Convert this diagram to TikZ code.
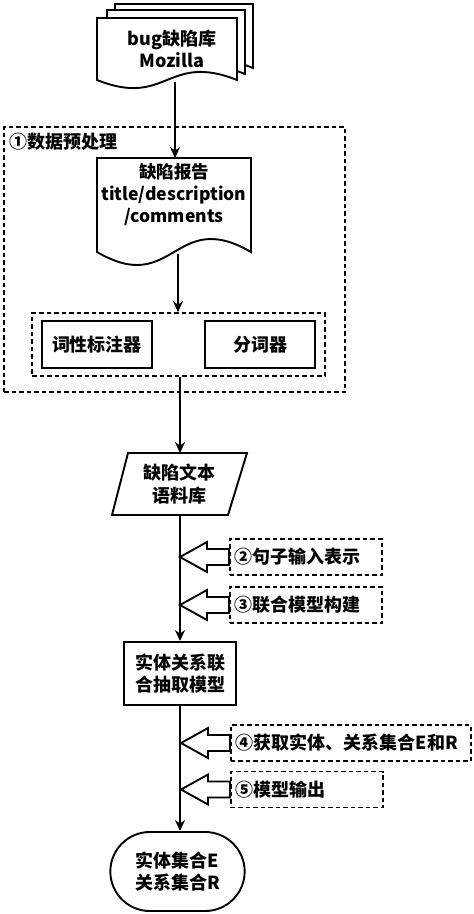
\documentclass[tikz,border=0pt]{standalone}
\usepackage{fontspec}
\setmainfont{Noto Sans CJK SC}
\usetikzlibrary{arrows.meta,shapes.misc}
\tikzset{
  >={Stealth[length=11pt,width=10pt]},
  flow/.style={line width=1.9pt},
  txt/.style={font=\bfseries\fontsize{18}{22.5}\selectfont,align=center},
  box/.style={draw,flow,txt,minimum width=110pt,minimum height=47pt},
  dbox/.style={draw,line width=1.7pt,dash pattern=on 4.5pt off 3pt},
  stepbox/.style={dbox,anchor=west,inner xsep=5pt,minimum height=36pt,
    text width=#1,align=left,font=\bfseries\fontsize{18}{22}\selectfont}
}
% 文档形状: x1, x2, 顶, 底, 波幅
\newcommand\docpath[5]{%
  \filldraw[fill=white,flow] (#1,#4) -- (#1,#3) -- (#2,#3) -- (#2,#4)
  .. controls ({(#1+#2)/2},{#4-#5}) and ({(#1+#2)/2},{#4+#5}) .. (#1,#4) -- cycle;}
% 空心箭头
\newcommand\hollowarr[1]{%
  \draw[flow,fill=white] (#1) -- ++(0,-8) -- ++(-22,0) -- ++(0,-7) -- ++(-27,15)
  -- ++(27,15) -- ++(0,-7) -- ++(22,0) -- cycle;}
\begin{document}
\begin{tikzpicture}[x=1pt,y=-1pt]
  \useasboundingbox (0,0) rectangle (474,914);
  % 数据预处理
  \node[dbox,minimum width=341pt,minimum height=265pt] (pre) at (174.5,259.5) {};
  \node[txt,anchor=west,inner sep=1pt] (preLbl) at (8,142) {①数据预处理};
  \docpath{115}{253}{4}{68}{28}
  \docpath{107}{245}{10}{74}{28}
  \docpath{97}{237}{18}{80}{28}
  \node[txt] (db) at (172,49) {bug缺陷库\\Mozilla};
  \coordinate (dbBot) at (175,82);
  \docpath{97}{251}{158}{252}{45}
  \node[txt,font=\bfseries\fontsize{17.5}{22}\selectfont] (rep) at (174,195) {缺陷报告\\title/description\\/comments};
  \coordinate (repTop) at (175,158);
  \coordinate (repBot) at (178,254);
  \node[dbox,minimum width=293pt,minimum height=63pt] (tools) at (178.5,344.5) {};
  \node[box] (pos) at (97,344.5) {词性标注器};
  \node[box] (seg) at (260,344.5) {分词器};
  % 语料库
  \draw[flow] (128,453) -- (247,453) -- (228,515) -- (112,515) -- cycle;
  \node[txt] (corpus) at (179,484) {缺陷文本\\语料库};
  \coordinate (corpusTop) at (180,453);
  \coordinate (corpusBot) at (180,515);
  \node[box,minimum width=112pt,minimum height=63pt] (model) at (180,673.5) {实体关系联\\合抽取模型};
  \node[draw,flow,txt,rounded rectangle,minimum width=141pt,minimum height=79pt]
    (res) at (177.5,871.5) {实体集合E\\关系集合R};
  % 步骤
  \node[stepbox=142pt] (s2) at (229,557) {②句子输入表示};
  \node[stepbox=142pt] (s3) at (229,605) {③联合模型构建};
  \node[stepbox=230pt] (s4) at (230,743) {④获取实体、关系集合E和R};
  \node[stepbox=142pt] (s5) at (230,789.5) {⑤模型输出};
  % 连线
  \draw[flow,->] (dbBot) -- (repTop);
  \draw[flow,->] (repBot) -- (tools.north -| repBot);
  \draw[flow,->] (tools.south -| corpusTop) -- (corpusTop);
  \draw[flow,->] (corpusBot) -- (model.north);
  \draw[flow,->] (model.south) -- (model.south |- res.north);
  \hollowarr{s2.west}
  \hollowarr{s3.west}
  \hollowarr{s4.west}
  \hollowarr{s5.west}
\end{tikzpicture}
\end{document}
